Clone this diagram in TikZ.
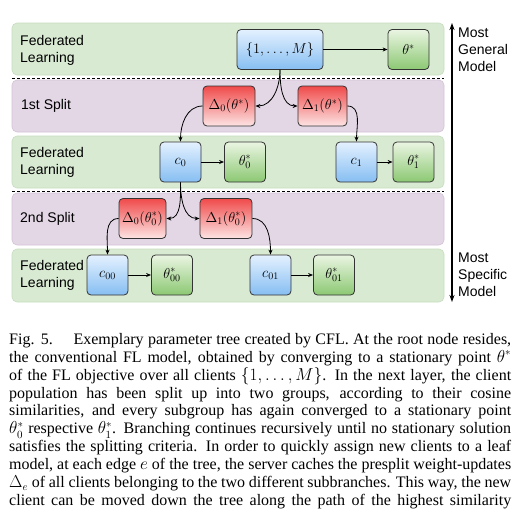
\documentclass[tikz,border=0pt]{standalone}
\usepackage{fontspec}
\setmainfont{Liberation Serif}
\setsansfont{Liberation Sans}
\usetikzlibrary{arrows.meta}
\definecolor{bandgreen}{HTML}{D9EAD3}
\definecolor{bandgreenline}{HTML}{C6DDBE}
\definecolor{bandpurple}{HTML}{E3D7E6}
\definecolor{bandpurpleline}{HTML}{D2C2D6}
\definecolor{btop}{HTML}{E4F1FF}
\definecolor{bbot}{HTML}{86BEF2}
\definecolor{gtop}{HTML}{EAF5E2}
\definecolor{gbot}{HTML}{8CC873}
\definecolor{rtop}{HTML}{F04A4A}
\definecolor{rbot}{HTML}{FDE4E4}
\definecolor{nodeline}{HTML}{333333}
\begin{document}
\begin{tikzpicture}[x=1pt,y=1pt,
  bandG/.style={fill=bandgreen,draw=bandgreenline,line width=0.6pt,rounded corners=5pt},
  bandP/.style={fill=bandpurple,draw=bandpurpleline,line width=0.6pt,rounded corners=5pt},
  sep/.style={dashed,line width=1pt,dash pattern=on 3pt off 2pt},
  box/.style={draw=nodeline,line width=0.8pt,rounded corners=4pt,minimum height=40pt,
    minimum width=41pt,inner sep=2pt,font=\fontsize{14.5}{17}\selectfont},
  bnode/.style={box,top color=btop,bottom color=bbot},
  gnode/.style={box,top color=gtop,bottom color=gbot},
  rnode/.style={box,top color=rtop,bottom color=rbot},
  lbl/.style={font=\sffamily\fontsize{14}{17}\selectfont,align=left,inner sep=0pt},
  arr/.style={-{Stealth[length=5pt,width=4pt]},line width=0.8pt},
  darr/.style={{Stealth[length=7pt,width=5pt]}-{Stealth[length=7pt,width=5pt]},line width=1.4pt}
]
\useasboundingbox (0,0) rectangle (522,-522);
% bands
\draw[bandG] (12,-23) rectangle (444,-75);
\draw[bandP] (12,-80) rectangle (444,-132);
\draw[bandG] (12,-136) rectangle (444,-188);
\draw[bandP] (12,-193) rectangle (444,-245);
\draw[bandG] (12,-249) rectangle (444,-302);
\draw[sep] (12,-78) -- (444,-78);
\draw[sep] (12,-191) -- (444,-191);
% band labels
\node[lbl,anchor=west] (fl1) at (20,-50) {Federated\\Learning};
\node[lbl,anchor=west] (s1) at (21,-106) {1st Split};
\node[lbl,anchor=west] (fl2) at (20,-162.5) {Federated\\Learning};
\node[lbl,anchor=west] (s2) at (20,-219) {2nd Split};
\node[lbl,anchor=west] (fl3) at (20,-275.5) {Federated\\Learning};
% right arrow and labels
\coordinate (atop) at (452,-23);
\coordinate (abot) at (452,-302);
\draw[darr] (atop) -- (abot);
\node[lbl,anchor=west] (gen) at (458,-50) {Most\\General\\Model};
\node[lbl,anchor=west] (spec) at (458,-275) {Most\\Specific\\Model};
% nodes
\node[bnode,minimum width=86pt] (root) at (280,-49.5) {$\{1,\ldots,M\}$};
\node[gnode] (t) at (408.5,-49.5) {$\theta^*$};
\node[rnode,minimum width=52pt] (d0) at (229,-106) {$\Delta_0(\theta^*)$};
\node[rnode,minimum width=49pt] (d1) at (322.5,-106) {$\Delta_1(\theta^*)$};
\node[bnode] (c0) at (180.5,-162) {$c_0$};
\node[gnode] (t0) at (245,-162) {$\theta_0^*$};
\node[bnode] (c1) at (356.5,-162) {$c_1$};
\node[gnode] (t1) at (413.5,-162) {$\theta_1^*$};
\node[rnode,minimum width=47pt] (d00) at (142.5,-218.5) {$\Delta_0(\theta_0^*)$};
\node[rnode,minimum width=52pt] (d01) at (226,-218.5) {$\Delta_1(\theta_0^*)$};
\node[bnode] (c00) at (107.5,-275) {$c_{00}$};
\node[gnode] (t00) at (172,-275) {$\theta_{00}^*$};
\node[bnode] (c01) at (270.5,-275) {$c_{01}$};
\node[gnode] (t01) at (334,-275) {$\theta_{01}^*$};
% connectors
\draw[arr] (root) -- (t);
\draw[arr] (root.south) to[out=-90,in=0] (d0.east);
\draw[arr] (root.south) to[out=-90,in=180] (d1.west);
\draw[arr] (d0.west) to[out=180,in=90] (c0.north);
\draw[arr] (d1.east) to[out=0,in=90] (c1.north);
\draw[arr] (c0) -- (t0);
\draw[arr] (c1) -- (t1);
\draw[arr] (c0.south) to[out=-90,in=0] (d00.east);
\draw[arr] (c0.south) to[out=-90,in=180] (d01.west);
\draw[arr] (d00.west) to[out=180,in=90] (c00.north);
\draw[arr] (d01.east) to[out=0,in=90] (c01.north);
\draw[arr] (c00) -- (t00);
\draw[arr] (c01) -- (t01);
% caption
\node[anchor=north west,inner sep=0pt,text width=502pt,align=justify,
  font=\fontsize{16}{17.9}\selectfont] (cap) at (9,-333) {%
Fig. 5.\hspace{0.9em} Exemplary parameter tree created by CFL. At the root node resides,\linebreak
the conventional FL model, obtained by converging to a stationary point $\theta^*$\linebreak
of the FL objective over all clients $\{1,\ldots,M\}$. In the next layer, the client\linebreak
population has been split up into two groups, according to their cosine\linebreak
similarities, and every subgroup has again converged to a stationary point\linebreak
$\theta_0^*$ respective $\theta_1^*$. Branching continues recursively until no stationary solution\linebreak
satisfies the splitting criteria. In order to quickly assign new clients to a leaf\linebreak
model, at each edge $e$ of the tree, the server caches the presplit weight-updates\linebreak
$\Delta_e$ of all clients belonging to the two different subbranches. This way, the new\linebreak
client can be moved down the tree along the path of the highest similarity\linebreak};
\end{tikzpicture}
\end{document}
